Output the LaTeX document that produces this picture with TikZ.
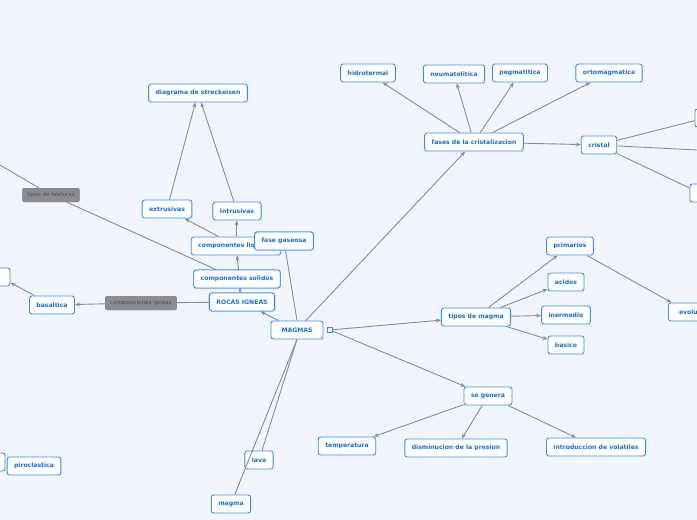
\documentclass[tikz,border=0pt]{standalone}
\usepackage{fontspec}
\setmainfont{DejaVu Sans}
\usetikzlibrary{arrows.meta}
\definecolor{bg}{HTML}{F2F5FE}
\definecolor{tb}{HTML}{1A6FD0}
\definecolor{bd}{HTML}{3A8EEA}
\definecolor{ln}{HTML}{8A8C92}
\tikzset{
 nd/.style={draw=bd,line width=0.9pt,fill=white,rounded corners=2.5pt,text=tb,font=\fontsize{6.1}{7}\selectfont\bfseries,minimum height=18pt,inner xsep=7pt},
 gl/.style={fill=ln,rounded corners=2pt,text=black!70,font=\fontsize{5.6}{6}\selectfont,minimum height=14pt,inner xsep=5pt},
 ar/.style={draw=ln,line width=0.9pt,-{Stealth[length=5pt,width=4pt]}},
 li/.style={draw=ln,line width=0.9pt},
}
\begin{document}
\begin{tikzpicture}[x=1pt,y=-1pt]
\fill[bg] (0,0) rectangle (697,520);
\useasboundingbox (0,0) rectangle (697,520);
\node[nd,minimum width=20pt] (lp) at (0,277) {};
\node[nd,minimum width=6pt] (lp2) at (-2,462) {};
\coordinate (tl) at (0,165);
\node[nd,minimum width=20pt] (rp1) at (705,118) {};
\node[nd,minimum width=20pt] (rp2) at (700,193) {};
\node[nd,minimum width=40pt,anchor=west] (ev) at (668,312) {evolu};
\coordinate (rc) at (697,150);

\node[nd] (dia) at (198,93) {diagrama de streckeisen};
\node[nd] (ext) at (167,209) {extrusivas};
\node[nd] (int) at (237,211) {intrusivas};
\node[nd] (cl) at (236,246) {componentes liquidos};
\node[nd] (cs) at (237,279) {componentes solidos};
\node[nd] (fg) at (284,241) {fase gaseosa};
\node[nd] (ri) at (242,302) {ROCAS IGNEAS};
\node[gl] (tt) at (51,195) {tipos de texturas};
\node[gl] (ci) at (141,303) {composiciones igneas};
\node[nd] (bas) at (52,305) {basaltica};
\node[nd] (pir) at (34,466) {piroclastica};
\node[nd] (lava) at (259,460) {lava};
\node[nd] (mag) at (231,504) {magma};

\node[nd] (fc) at (474,142) {fases de la cristalizacion};
\node[nd] (hid) at (368,73) {hidrotermal};
\node[nd] (neu) at (454,74) {neumatolitica};
\node[nd] (peg) at (520,73) {pegmatitica};
\node[nd] (ort) at (609,73) {ortomagmatica};
\node[nd] (cri) at (599,145) {cristal};

\node[nd] (tm) at (476,317) {tipos de magma};
\node[nd] (pri) at (570,246) {primarios};
\node[nd] (aci) at (566,282) {acidos};
\node[nd] (ine) at (566,315) {inermedio};
\node[nd] (bsc) at (566,345) {basico};

\node[nd] (sg) at (488,396) {se genera};
\node[nd] (tem) at (347,446) {temperatura};
\node[nd] (dis) at (456,448) {disminucion de la presion};
\node[nd] (iv) at (596,447) {introduccion de volatiles};

\node[nd,minimum width=52pt] (M) at (297,330) {MAGMAS};
\node[draw=bd,line width=0.6pt,minimum size=5pt,inner sep=0pt] (ic) at (330,330) {};

\draw[ar] (M) -- (ri);
\draw[ar] (M) -- (fc);
\draw[ar] (ic) -- (tm);
\draw[ar] (ic) -- (sg);
\draw[li] (M.south) -- (lava);
\draw[li] (M.south) -- (mag);
\draw[li] (M.north) -- (fg);
\draw[li] (ri) -- (cs);
\draw[ar] (ri) -- (cl);
\draw[li] (cs) -- (tt) -- (tl);
\draw[li] (ri) -- (ci);
\draw[ar] (ci) -- (bas);
\draw[ar] (bas) -- (lp);
\draw[ar] (cl) -- (ext);
\draw[ar] (cl) -- (int);
\draw[ar] (ext) -- (dia);
\draw[ar] (int) -- (dia);
\draw[ar] (fc) -- (hid);
\draw[ar] (fc) -- (neu);
\draw[ar] (fc) -- (peg);
\draw[ar] (fc) -- (ort);
\draw[ar] (fc) -- (cri);
\draw[li] (cri) -- (rp1);
\draw[li] (cri) -- (rc);
\draw[li] (cri) -- (rp2);
\draw[ar] (tm) -- (pri);
\draw[ar] (tm) -- (aci);
\draw[ar] (tm) -- (ine);
\draw[ar] (tm) -- (bsc);
\draw[ar] (pri) -- (ev);
\draw[ar] (sg) -- (tem);
\draw[ar] (sg) -- (dis);
\draw[ar] (sg) -- (iv);
\node[nd] at (fg) {fase gaseosa};
\node[nd] at (cs) {componentes solidos};
\node[nd] at (ri) {ROCAS IGNEAS};
\node[gl] at (tt) {tipos de texturas};
\node[gl] at (ci) {composiciones igneas};
\end{tikzpicture}
\end{document}
